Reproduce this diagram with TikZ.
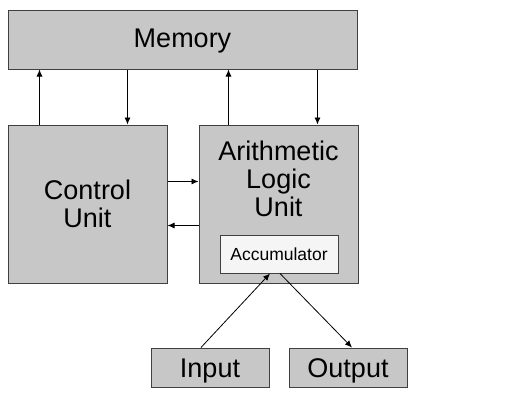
\documentclass[tikz,border=0pt]{standalone}
\usepackage{fontspec}
\setmainfont{Liberation Sans}
\usepackage{tikz}
\usetikzlibrary{arrows.meta,positioning}
\usepackage{xcolor}
\definecolor{boxgray}{gray}{0.78}
\definecolor{accgray}{gray}{0.96}
\definecolor{edgegray}{gray}{0.25}

\begin{document}
\begin{tikzpicture}[x=1pt,y=-1pt,
    unit/.style={draw=edgegray,line width=1pt,fill=boxgray,inner sep=0pt,
      font=\fontsize{27}{28}\selectfont,align=center},
    one line/.style={text height=19.3pt,text depth=0pt},
    small unit/.style={unit,fill=accgray,font=\fontsize{17.5}{20}\selectfont,
      text height=12.5pt,text depth=0pt},
    link/.style={-{Latex[length=7pt,width=6pt]},line width=0.8pt}]
  \useasboundingbox (0,0) rectangle (512,410);
  \node[unit,minimum width=349pt,minimum height=59pt,text height=19.3pt,text depth=4.3pt] (memory) at (182.5,39.5) {Memory};
  \node[unit,minimum width=159pt,minimum height=158pt] (control unit) at (87.5,204) {Control\\Unit};
  \node[unit,minimum width=159pt,minimum height=158pt,
    label={[font=\fontsize{27}{28}\selectfont,align=center,inner sep=0pt,
      anchor=north,yshift=-16pt]north:Arithmetic\\Logic\\Unit}] (alu) at (278.5,204) {};
  \node[small unit,minimum width=118pt,minimum height=38pt] (accumulator) at (279,254) {Accumulator};
  \node[unit,one line,minimum width=118pt,minimum height=39pt] (input) at (210,367.5) {Input};
  \node[unit,one line,minimum width=118pt,minimum height=39pt] (output) at (348,367.5) {Output};

  \draw[link] ([xshift=32pt]control unit.north west) -- ([xshift=32pt]control unit.north west |- memory.south);
  \draw[link] ([xshift=120pt]control unit.north west |- memory.south) -- ([xshift=120pt]control unit.north west);
  \draw[link] ([xshift=30pt]alu.north west) -- ([xshift=30pt]alu.north west |- memory.south);
  \draw[link] ([xshift=119pt]alu.north west |- memory.south) -- ([xshift=119pt]alu.north west);
  \draw[link] ([yshift=-57pt]control unit.north east) -- ([yshift=-57pt]control unit.north east -| alu.west);
  \draw[link] ([yshift=-101pt]control unit.north east -| alu.west) -- ([yshift=-101pt]control unit.north east);
  \draw[link] ([xshift=-9pt]input.north) -- ([xshift=-9pt]accumulator.south);
  \draw[link] ([xshift=1pt]accumulator.south) -- ([xshift=4pt]output.north);
\end{tikzpicture}
\end{document}
